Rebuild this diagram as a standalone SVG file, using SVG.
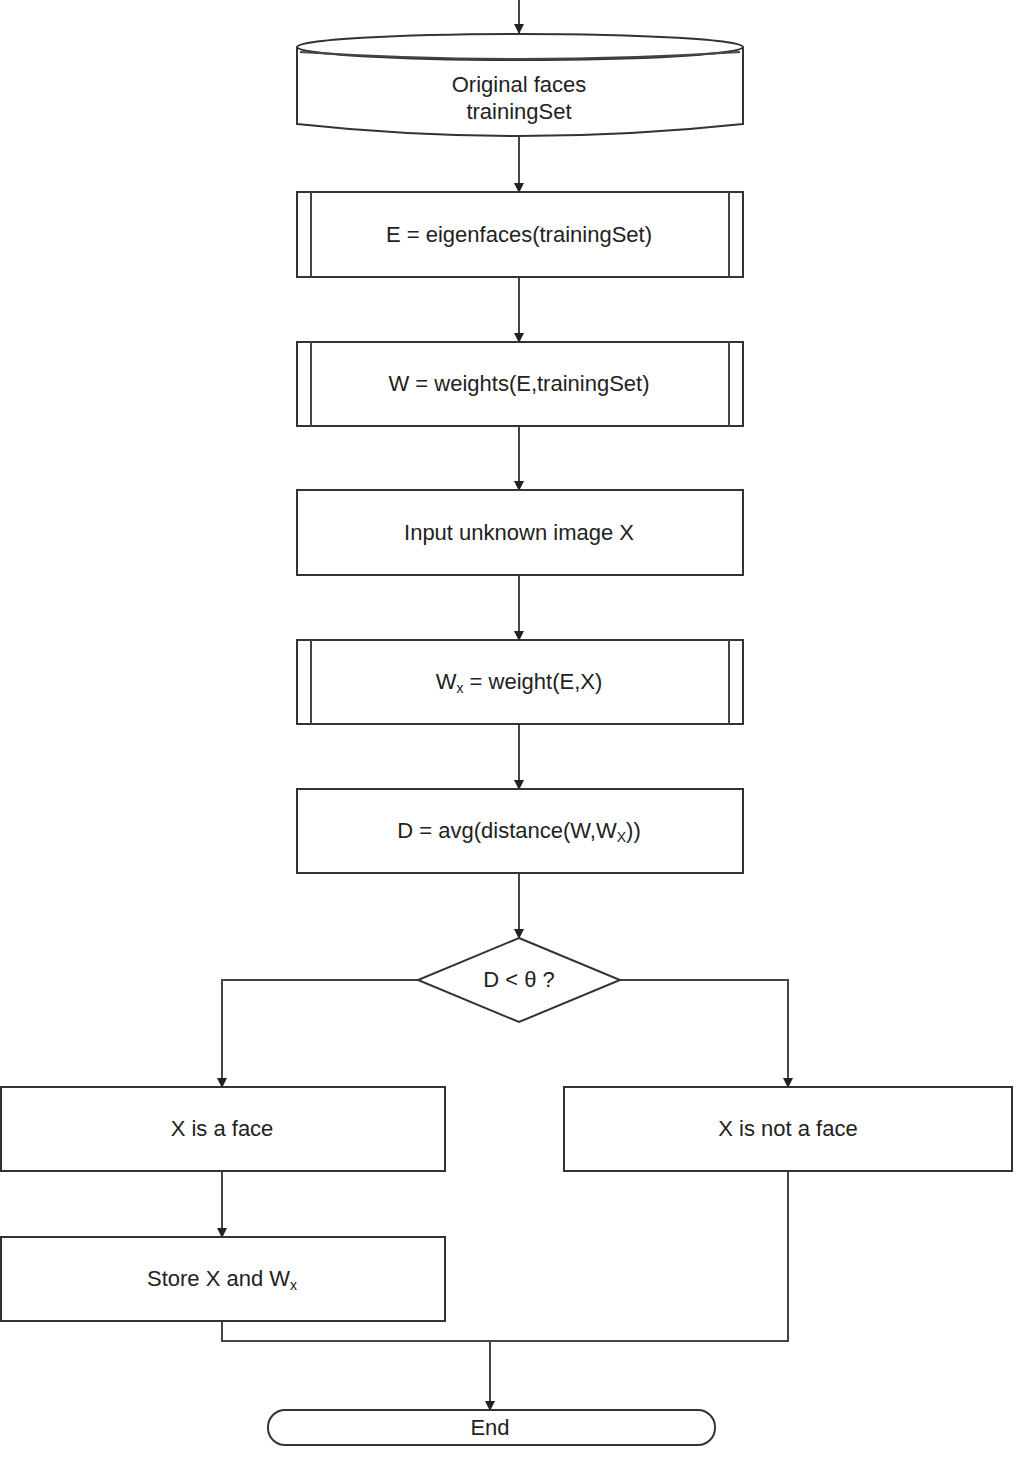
<svg xmlns="http://www.w3.org/2000/svg" width="1025" height="1457" viewBox="0 0 1025 1457">
<style>
.s{fill:#fff;stroke:#333;stroke-width:2}
.l{fill:none;stroke:#444;stroke-width:2}
text{font-family:"Liberation Sans",Arial,sans-serif;font-size:22px;fill:#222;text-anchor:middle}
.sub{font-size:14px}
</style>
<defs><marker id="a" viewBox="0 0 10 10" refX="9" refY="5" markerWidth="5" markerHeight="5" orient="auto"><path d="M0,0L10,5L0,10z" fill="#222"/></marker></defs>
<rect width="1025" height="1457" fill="#fff"/>
<g id="connectors">
<path class="l" d="M519,0V33" marker-end="url(#a)"/>
<path class="l" d="M519,137V192" marker-end="url(#a)"/>
<path class="l" d="M519,277V342" marker-end="url(#a)"/>
<path class="l" d="M519,426V490" marker-end="url(#a)"/>
<path class="l" d="M519,575V640" marker-end="url(#a)"/>
<path class="l" d="M519,724V789" marker-end="url(#a)"/>
<path class="l" d="M519,873V938" marker-end="url(#a)"/>
<path class="l" d="M418,980H222V1087" marker-end="url(#a)"/>
<path class="l" d="M620,980H788V1087" marker-end="url(#a)"/>
<path class="l" d="M222,1171V1237" marker-end="url(#a)"/>
<path class="l" d="M222,1321V1341H788V1171"/>
<path class="l" d="M490,1341V1410" marker-end="url(#a)"/>
</g>
<g id="n1"><path class="s" d="M297,47V124Q519,148 743,124V47"/><ellipse class="s" cx="520" cy="47" rx="223" ry="13"/><path class="l" d="M300,52Q520,66 740,52"/><text x="519" y="92">Original faces</text><text x="519" y="119">trainingSet</text></g>
<g id="n2"><rect class="s" x="297" y="192" width="446" height="85"/><path class="l" d="M311,192V277M729,192V277"/><text x="519" y="242">E = eigenfaces(trainingSet)</text></g>
<g id="n3"><rect class="s" x="297" y="342" width="446" height="84"/><path class="l" d="M311,342V426M729,342V426"/><text x="519" y="391">W = weights(E,trainingSet)</text></g>
<g id="n4"><rect class="s" x="297" y="490" width="446" height="85"/><text x="519" y="540">Input unknown image X</text></g>
<g id="n5"><rect class="s" x="297" y="640" width="446" height="84"/><path class="l" d="M311,640V724M729,640V724"/><text x="519" y="689">W<tspan class="sub" dy="4">x</tspan><tspan dy="-4"> = weight(E,X)</tspan></text></g>
<g id="n6"><rect class="s" x="297" y="789" width="446" height="84"/><text x="519" y="838">D = avg(distance(W,W<tspan class="sub" dy="4">X</tspan><tspan dy="-4">))</tspan></text></g>
<g id="n7"><path class="s" d="M519,938L620,980L519,1022L418,980Z"/><text x="519" y="987">D &lt; θ ?</text></g>
<g id="n8"><rect class="s" x="1" y="1087" width="444" height="84"/><text x="222" y="1136">X is a face</text></g>
<g id="n9"><rect class="s" x="564" y="1087" width="448" height="84"/><text x="788" y="1136">X is not a face</text></g>
<g id="n10"><rect class="s" x="1" y="1237" width="444" height="84"/><text x="222" y="1286">Store X and W<tspan class="sub" dy="4">x</tspan></text></g>
<g id="n11"><rect class="s" x="268" y="1410" width="447" height="35" rx="17"/><text x="490" y="1435">End</text></g>
</svg>
